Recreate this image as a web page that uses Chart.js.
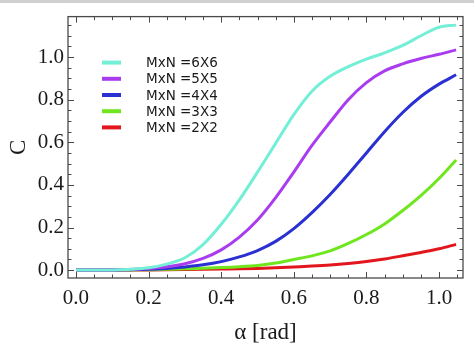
<!DOCTYPE html>
<html>
<head>
<meta charset="utf-8">
<script src="https://cdn.jsdelivr.net/npm/chart.js@4/dist/chart.umd.min.js"></script>
<style>
  html, body { margin: 0; padding: 0; background: #ffffff; }
  #wrap { width: 474px; height: 363px; }
</style>
</head>
<body>
<div id="wrap"><canvas id="c" width="474" height="363"></canvas></div>
<script>
// ---- data ----
const alpha = [0, 0.05, 0.10, 0.15, 0.20, 0.25, 0.30, 0.35, 0.40, 0.45, 0.50, 0.55, 0.60, 0.65, 0.70, 0.75, 0.80, 0.85, 0.90, 0.95, 1.00, 1.047];
const c6x6 = [0, 0, 0.001, 0.004, 0.011, 0.028, 0.058, 0.120, 0.215, 0.330, 0.460, 0.595, 0.730, 0.840, 0.910, 0.955, 0.990, 1.020, 1.055, 1.100, 1.140, 1.150];
const c5x5 = [0, 0, 0.001, 0.003, 0.008, 0.016, 0.030, 0.055, 0.095, 0.155, 0.235, 0.340, 0.460, 0.585, 0.695, 0.800, 0.880, 0.935, 0.968, 0.993, 1.013, 1.034];
const c4x4 = [0, 0, 0, 0.002, 0.004, 0.008, 0.015, 0.025, 0.040, 0.062, 0.092, 0.135, 0.195, 0.270, 0.355, 0.450, 0.550, 0.650, 0.740, 0.815, 0.873, 0.917];
const c3x3 = [0, 0, 0, 0.001, 0.002, 0.004, 0.006, 0.009, 0.012, 0.016, 0.022, 0.033, 0.050, 0.067, 0.090, 0.125, 0.167, 0.217, 0.280, 0.350, 0.430, 0.517];
const c2x2 = [0, 0, 0, 0, 0.001, 0.002, 0.003, 0.004, 0.005, 0.006, 0.008, 0.011, 0.015, 0.019, 0.024, 0.031, 0.040, 0.052, 0.067, 0.083, 0.100, 0.121];
const seriesLabels = ["MxN =6X6", "MxN =5X5", "MxN =4X4", "MxN =3X3", "MxN =2X2"];
const seriesColors = ["#72efd6", "#aa3cf0", "#2a30d2", "#6fe61e", "#e2161c"];
const xTickValues = [0.0, 0.2, 0.4, 0.6, 0.8, 1.0];
const yTickValues = [0.0, 0.2, 0.4, 0.6, 0.8, 1.0];
const xTitle = "α [rad]";
const yTitle = "C";

const seriesValues = [c6x6, c5x5, c4x4, c3x3, c2x2];
const datasets = seriesValues.map((vals, i) => ({
  label: seriesLabels[i],
  data: alpha.map((a, k) => ({ x: a, y: vals[k] })),
  borderColor: seriesColors[i],
  backgroundColor: seriesColors[i],
  borderWidth: 3,
  pointRadius: 0,
  cubicInterpolationMode: 'monotone',
  fill: false
}));

const frameColor = '#4a4a4a';

const framePlugin = {
  id: 'frame',
  beforeDraw(chart) {
    const ctx = chart.ctx;
    ctx.save();
    ctx.fillStyle = '#ffffff';
    ctx.fillRect(0, 0, chart.width, chart.height);
    ctx.fillStyle = '#cfcfcf';
    ctx.fillRect(0, 0, chart.width, 3);
    ctx.restore();
  },
  afterDatasetsDraw(chart) {
    const ctx = chart.ctx;
    const a = chart.chartArea;
    const xs = chart.scales.x, ys = chart.scales.y;
    ctx.save();
    ctx.strokeStyle = frameColor;
    ctx.lineWidth = 1.3;
    ctx.strokeRect(a.left, a.top, a.right - a.left, a.bottom - a.top);
    ctx.lineWidth = 1;
    const major = 6, minor = 3.5;
    for (let k = 0; k <= 21; k++) {
      const v = k * 0.05;
      const px = Math.round(xs.getPixelForValue(v)) + 0.5;
      const len = (k % 4 === 0) ? major : minor;
      ctx.beginPath();
      ctx.moveTo(px, a.bottom); ctx.lineTo(px, a.bottom - len);
      ctx.moveTo(px, a.top); ctx.lineTo(px, a.top + len);
      ctx.stroke();
    }
    for (let k = 0; k <= 23; k++) {
      const v = k * 0.05;
      const py = Math.round(ys.getPixelForValue(v)) + 0.5;
      if (py < a.top) continue;
      const len = (k % 4 === 0) ? major : minor;
      ctx.beginPath();
      ctx.moveTo(a.left, py); ctx.lineTo(a.left + len, py);
      ctx.moveTo(a.right, py); ctx.lineTo(a.right - len, py);
      ctx.stroke();
    }
    ctx.restore();
  },
  afterDraw(chart) {
    const ctx = chart.ctx;
    const a = chart.chartArea;
    ctx.save();
    ctx.font = '13.5px "DejaVu Sans", sans-serif';
    ctx.textBaseline = 'middle';
    ctx.textAlign = 'left';
    chart.data.datasets.forEach((ds, i) => {
      const y = a.top + 46 + i * 16.2;
      ctx.strokeStyle = ds.borderColor;
      ctx.lineWidth = 4;
      ctx.beginPath();
      ctx.moveTo(a.left + 34, y);
      ctx.lineTo(a.left + 53, y);
      ctx.stroke();
      ctx.fillStyle = '#1a1a1a';
      ctx.fillText(ds.label, a.left + 78, y + 1);
    });
    ctx.restore();
  }
};

new Chart(document.getElementById('c'), {
  type: 'line',
  data: { datasets },
  options: {
    responsive: false,
    animation: false,
    layout: { padding: { top: 14, right: 11, left: 0, bottom: 0 } },
    plugins: { legend: { display: false }, tooltip: { enabled: false } },
    scales: {
      x: {
        type: 'linear',
        min: -0.022, max: 1.066,
        afterBuildTicks: (s) => { s.ticks = xTickValues.map(v => ({ value: v })); },
        afterFit: (s) => { s.height = 85; },
        grid: { display: false, drawTicks: false },
        border: { display: false },
        ticks: {
          padding: 8,
          color: '#1a1a1a',
          font: { family: '"Liberation Serif", serif', size: 21 },
          callback: (v) => Number(v).toFixed(1),
          maxRotation: 0
        },
        title: {
          display: true, text: xTitle, color: '#1a1a1a',
          font: { family: '"Liberation Serif", serif', size: 23 },
          padding: { top: 0, bottom: 16 }
        }
      },
      y: {
        type: 'linear',
        min: -0.037, max: 1.19,
        afterBuildTicks: (s) => { s.ticks = yTickValues.map(v => ({ value: v })); },
        afterFit: (s) => { s.width = 68; },
        grid: { display: false, drawTicks: false },
        border: { display: false },
        ticks: {
          padding: 4,
          color: '#1a1a1a',
          font: { family: '"Liberation Serif", serif', size: 21 },
          callback: (v) => Number(v).toFixed(1)
        },
        title: {
          display: true, text: yTitle, color: '#1a1a1a',
          font: { family: '"Liberation Serif", serif', size: 23 },
          padding: { top: 5, bottom: 0 }
        }
      }
    }
  },
  plugins: [framePlugin]
});
</script>
</body>
</html>
